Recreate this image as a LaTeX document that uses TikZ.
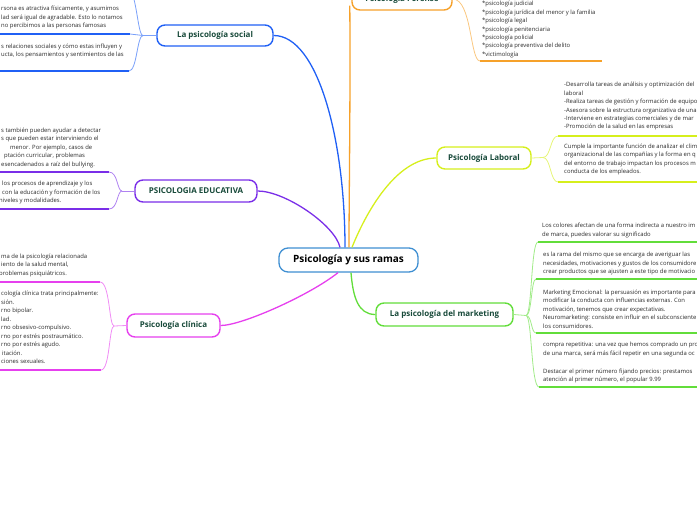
\documentclass[tikz,border=0pt]{standalone}
\usepackage{fontspec}
\setmainfont{Open Sans}
\usetikzlibrary{calc}
\definecolor{cblue}{HTML}{3F8FD2}
\definecolor{sblue}{HTML}{2060F5}
\definecolor{cpurple}{HTML}{7A2EE8}
\definecolor{cmag}{HTML}{E640EE}
\definecolor{corange}{HTML}{F6A12A}
\definecolor{clime}{HTML}{D6EF1C}
\definecolor{cgreen}{HTML}{62DD3A}
\definecolor{ttl}{HTML}{184A3A}
\definecolor{bodyc}{HTML}{2A2A2A}
\begin{document}
\begin{tikzpicture}[x=1pt,y=-1pt,
  topic/.style={draw=#1, line width=1.4pt, rounded corners=8pt, fill=white, inner sep=0pt, text=ttl, font=\fontsize{8}{9}\selectfont\bfseries},
  conn/.style={draw=#1, line width=1.3pt},
  brk/.style={draw=#1!60, line width=0.8pt},
  uline/.style={draw=#1, line width=2pt},
  body/.style={font=\fontsize{5.9}{8.45}\selectfont, text=bodyc, align=left, inner sep=0pt, anchor=north west},
]
\useasboundingbox (0,0) rectangle (697,520);

% central topic and main topics
\node[draw=cblue, line width=1.3pt, rounded corners=9pt, fill=white, inner sep=0pt,
      minimum width=139pt, minimum height=24pt, font=\fontsize{10}{12}\selectfont\bfseries]
      (centre) at (348.5,260) {Psicología y sus ramas};
\node[topic=sblue, minimum width=116pt, minimum height=21pt] (social) at (215,35.5) {La psicología social};
\node[topic=cpurple, minimum width=122pt, minimum height=22pt] (educ) at (196,191) {PSICOLOGIA EDUCATIVA};
\node[topic=cmag, minimum width=93pt, minimum height=23pt] (clin) at (173.5,325.5) {Psicología clínica};
\node[topic=corange, minimum width=100pt, minimum height=22pt] (foren) at (402,-1) {Psicología Forense};
\node[topic=clime, minimum width=94pt, minimum height=22pt] (labor) at (484,158) {Psicología Laboral};
\node[topic=cgreen, minimum width=137pt, minimum height=23pt] (market) at (444.5,314.5) {La psicología del marketing};

% main connectors
\draw[conn=sblue] (social.east) .. controls (318,35.5) and (345,140) .. ([xshift=-3.5pt]centre.north);
\draw[conn=cpurple] (educ.east) .. controls (285,191) and (335,225) .. ([xshift=-8.5pt]centre.north);
\draw[conn=corange] ($(foren.south west)+(-1.5,-5)$) .. controls (350.5,100) and (349,200) .. ([xshift=0.5pt]centre.north);
\draw[conn=clime] ([xshift=3.5pt]centre.north) .. controls (365,215) and (395,158) .. (labor.west);
\draw[conn=cmag] (clin.east) .. controls (242,325.5) and (310,295) .. ([xshift=-10.5pt]centre.south);
\draw[conn=cgreen] ([xshift=2.5pt]centre.south) .. controls (353,297) and (358,314.5) .. (market.west);

% ---- social subtopics
\coordinate (js) at (143,35.5);
\coordinate (s1) at (125,-15);
\coordinate (s2) at (130,34);
\coordinate (s3) at (129,71);
\draw[brk=sblue] (social.west) -- (js);
\draw[brk=sblue] (js) .. controls (137,35.5) and (137,-15) .. (s1);
\draw[brk=sblue] (js) .. controls (137,35.5) and (136,34) .. (s2);
\draw[brk=sblue] (js) .. controls (137,35.5) and (137,71) .. (s3);
\draw[uline=sblue] (s2) -- +(-140,0);
\draw[uline=sblue] (s3) -- +(-140,0);
\node[body] (st2) at (1,4.55) {\strut rsona es atractiva físicamente, y asumimos\\lad será igual de agradable. Esto lo notamos\\no percibimos a las personas famosas};
\node[body] (st3) at (1,42.05) {\strut s relaciones sociales y cómo estas influyen y\\ucta, los pensamientos y sentimientos de las};

% ---- educativa subtopics
\coordinate (je) at (122,191);
\coordinate (e1) at (109,172);
\coordinate (e2) at (109,209);
\draw[brk=cpurple] (educ.west) -- (je);
\draw[brk=cpurple] (je) .. controls (117,191) and (118,172) .. (e1);
\draw[brk=cpurple] (je) .. controls (117,191) and (118,209) .. (e2);
\draw[uline=cpurple] (e1) -- +(-120,0);
\draw[uline=cpurple] (e2) -- +(-120,0);
\node[body] (et1) at (1,126.25) {\strut s también pueden ayudar a detectar\\s que pueden estar interviniendo el\\\hspace*{9pt}menor. Por ejemplo, casos de\\\hspace*{3pt}ptación curricular, problemas\\esencadenados a raíz del bullying.};
\node[body] (et2) at (2,179.55) {\strut los procesos de aprendizaje y los\\con la educación y formación de los\\\hspace*{-3pt}niveles y modalidades.};

% ---- clinica subtopics
\coordinate (jc) at (114,326);
\coordinate (c1) at (100,282);
\coordinate (c2) at (101,370);
\draw[brk=cmag] (clin.west) -- (jc);
\draw[brk=cmag] (jc) .. controls (109,326) and (110,282) .. (c1);
\draw[brk=cmag] (jc) .. controls (109,326) and (110,370) .. (c2);
\draw[uline=cmag] (c1) -- +(-110,0);
\draw[uline=cmag] (c2) -- +(-110,0);
\node[body] (ct1) at (1,252.25) {\strut ma de la psicología relacionada\\iento de la salud mental,\\\hspace*{-2pt}problemas psiquiátricos.};
\node[body] (ct2) at (1,289.85) {\strut cología clínica trata principalmente:\\sión.\\rno bipolar.\\lad.\\rno obsesivo-compulsivo.\\rno por estrés postraumático.\\rno por estrés agudo.\\\hspace*{1pt}itación.\\ciones sexuales.};

% ---- forense subtopic
\coordinate (f1) at (480,61);
\draw[brk=corange] (foren.east) .. controls (472,-1) and (470,61) .. (f1);
\draw[uline=corange] (f1) -- (602,61);
\node[body] (ft1) at (482,-0.45) {\strut *psicología judicial\\*psicología jurídica del menor y la familia\\*psicología legal\\*psicología penitenciaria\\*psicología policial\\*psicología preventiva del delito\\*victimología};

% ---- laboral subtopics
\coordinate (jl) at (543,157.5);
\coordinate (l1) at (558,136);
\coordinate (l2) at (558,182);
\draw[brk=clime] (labor.east) -- (jl);
\draw[brk=clime] (jl) .. controls (551,157.5) and (550,136) .. (l1);
\draw[brk=clime] (jl) .. controls (551,157.5) and (550,182) .. (l2);
\draw[uline=clime] (l1) -- +(150,0);
\draw[uline=clime] (l2) -- +(150,0);
\node[body] (lt1) at (564,80.55) {\strut -Desarrolla tareas de análisis y optimización del\\laboral\\-Realiza tareas de gestión y formación de equipo\\-Asesora sobre la estructura organizativa de una\\-Interviene en estrategias comerciales y de mar\\-Promoción de la salud en las empresas};
\node[body] (lt2) at (564,142.25) {\strut Cumple la importante función de analizar el clim\\organizacional de las compañías y la forma en q\\del entorno de trabajo impactan los procesos m\\conducta de los empleados.};

% ---- marketing subtopics
\coordinate (jm) at (526,315.5);
\coordinate (m1) at (538,242);
\coordinate (m2) at (536,279);
\coordinate (m3) at (536,333);
\coordinate (m4) at (539,387);
\draw[brk=cgreen] (market.east) -- (jm);
\draw[brk=cgreen] (jm) .. controls (532,315.5) and (531,242) .. (m1);
\draw[brk=cgreen] (jm) .. controls (532,315.5) and (531,279) .. (m2);
\draw[brk=cgreen] (jm) .. controls (532,315.5) and (531,333) .. (m3);
\draw[brk=cgreen] (jm) .. controls (532,315.5) and (531,387) .. (m4);
\draw[uline=cgreen] (m1) -- +(170,0);
\draw[uline=cgreen] (m2) -- +(170,0);
\draw[uline=cgreen] (m3) -- +(170,0);
\draw[uline=cgreen] (m4) -- +(170,0);
\node[body] (mt1) at (542,221.55) {\strut Los colores afectan de una forma indirecta a nuestro im\\de marca, puedes valorar su significado};
\node[body] (mt2) at (543,250.55) {\strut es la rama del mismo que se encarga de averiguar las\\necesidades, motivaciones y gustos de los consumidore\\crear productos que se ajusten a este tipo de motivacio};
\node[body] (mt3) at (543,288.25) {\strut Marketing Emocional: la persuasión es importante para\\modificar la conducta con influencias externas. Con\\motivación, tenemos que crear expectativas.\\Neuromarketing: consiste en influir en el subconsciente\\los consumidores.};
\node[body] (mt4) at (543,340.55) {\strut compra repetitiva: una vez que hemos comprado un pro\\de una marca, será más fácil repetir en una segunda oc\\[9.7pt]Destacar el primer número fijando precios: prestamos\\atención al primer número, el popular 9.99};
\end{tikzpicture}
\end{document}
